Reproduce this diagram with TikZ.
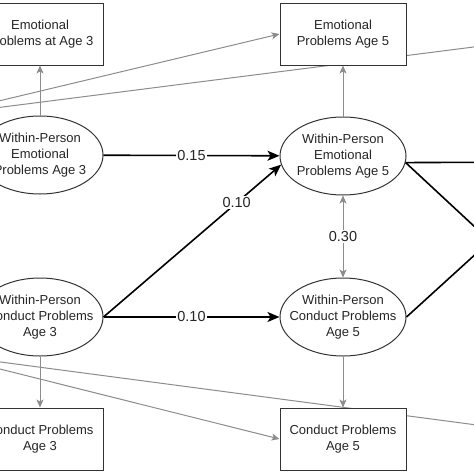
\documentclass[tikz,border=0pt]{standalone}
\usepackage{fontspec}
\setmainfont{Liberation Sans}
\usetikzlibrary{arrows.meta,shapes.geometric}
\begin{document}
\begin{tikzpicture}[x=1pt, y=-1pt, font=\fontsize{13}{16.3}\selectfont,
	latent/.style={ellipse, draw=black!80, line width=1pt, fill=white, minimum width=126pt, minimum height=78pt, inner xsep=-16pt, inner ysep=-8pt, align=center, text=black!85},
	measure/.style={draw=black!80, line width=1pt, fill=white, minimum width=126pt, minimum height=62pt, inner sep=0pt, align=center, text=black!85},
	beta/.style={line width=1.6pt, -{Stealth[length=12pt, width=10pt, inset=3pt]}},
	load/.style={black!45, line width=1pt, -{Stealth[length=8pt, width=7pt, inset=2pt]}},
	twoway/.style={black!45, line width=1pt, {Stealth[length=8pt, width=7pt, inset=2pt]}-{Stealth[length=8pt, width=7pt, inset=2pt]}},
	coef/.style={fill=white, inner sep=1.5pt, text=black!85, font=\fontsize{14.5}{16}\selectfont}]
	\useasboundingbox (0,0) rectangle (474,474);
	\clip (0,0) rectangle (474,474);
	\coordinate (covT) at (-60,115);
	\coordinate (covB) at (-60,354);
	\coordinate (farT) at (560,36);
	\coordinate (farB) at (560,436);
	\coordinate (farR) at (560,162);
	\coordinate (age7) at (490,241);
	% paths running behind the boxes
	\draw[black!45, line width=1pt] (covT) -- (farT);
	\draw[black!45, line width=1pt] (covB) -- (farB);
	\node[measure] (ep3)  at (40,34)   {Emotional\\Problems at Age 3};
	\node[measure] (ep5)  at (343,34)  {Emotional\\Problems Age 5};
	\node[latent]  (ewp3) at (40,155)  {Within-Person\\Emotional\\Problems Age 3};
	\node[latent]  (ewp5) at (343,156) {Within-Person\\Emotional\\Problems Age 5};
	\node[latent]  (cwp3) at (40,317)  {Within-Person\\Conduct Problems\\Age 3};
	\node[latent]  (cwp5) at (343,317) {Within-Person\\Conduct Problems\\Age 5};
	\node[measure] (cp3)  at (40,439)  {Conduct Problems\\Age 3};
	\node[measure] (cp5)  at (343,439) {Conduct Problems\\Age 5};
	\draw[load] (ewp3) -- (ep3);
	\draw[load] (ewp5) -- (ep5);
	\draw[load] (cwp3) -- (cp3);
	\draw[load] (cwp5) -- (cp5);
	\draw[load] (covT) -- (ep5.west);
	\draw[load] (covB) -- (cp5.west);
	\draw[twoway] (ewp5) -- node[coef]{0.30} (cwp5);
	\draw[beta] (ewp3) -- node[coef]{0.15} (ewp5);
	\draw[beta] (cwp3.east) -- node[coef, pos=.75]{0.10} (ewp5.188);
	\draw[beta] (cwp3) -- node[coef]{0.10} (cwp5);
	\draw[line width=1.6pt] (ewp5.-6) -- (farR);
	\draw[line width=1.6pt] (ewp5.-6) -- (age7);
	\draw[line width=1.6pt] (cwp5.east) -- (age7);
\end{tikzpicture}
\end{document}
